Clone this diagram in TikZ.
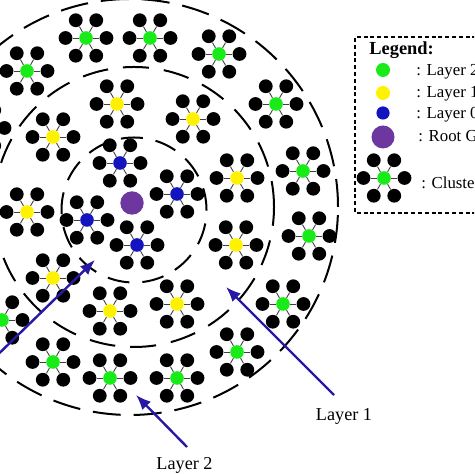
\documentclass[tikz,border=0pt]{standalone}
\usepackage{fontspec}
\setmainfont{Liberation Serif}
\usetikzlibrary{arrows.meta}
\definecolor{lgreen}{RGB}{25,235,25}
\definecolor{lyellow}{RGB}{255,242,0}
\definecolor{lblue}{RGB}{20,20,190}
\definecolor{lpurple}{RGB}{110,55,160}
\definecolor{arrowblue}{RGB}{40,25,165}
\tikzset{
  hub/.style={circle,inner sep=0pt,minimum size=6.8pt,draw=none},
  leaf/.style={circle,inner sep=0pt,minimum size=6.9pt,fill=black,draw=none},
  spoke/.style={draw=black!75,line width=0.45pt},
  dot/.style={circle,inner sep=0pt,draw=none},
  ring/.style={line width=1pt,black},
  legbox/.style={line width=1pt,dash pattern=on 2pt off 1.4pt},
  layerarrow/.style={arrowblue,line width=1.2pt,-{Latex[length=7.5pt,width=6pt]}},
  lab/.style={inner sep=0pt,font=\fontsize{9.1}{11}\selectfont,anchor=base},
  legtxt/.style={inner sep=0pt,font=\fontsize{8.4}{10}\selectfont,anchor=base west},
  pics/cluster/.style={code={
    \node[hub,fill=#1] (-c) at (0,0) {};
    \foreach \i/\a in {1/0,2/60,3/120,4/180,5/240,6/300}{
      \node[leaf] (-n\i) at (\a:20.5) {};
      \draw[spoke] (-c) -- (-n\i);
    }
  }}
}
\begin{document}
\begin{tikzpicture}[x=0.5pt,y=0.5pt]
\useasboundingbox (0,0) rectangle (474,474);
\clip (0,0) rectangle (474,474);
% dashed layer rings
\draw[ring,dash pattern=on 11pt off 6.5pt] (134,264) circle[radius=72.5];
\draw[ring,dash pattern=on 13pt off 7.5pt] (134,267) circle[radius=140];
\draw[ring,dash pattern=on 14pt off 6.5pt] (130,267) circle[radius=208];
% root gateway
\node[dot,fill=lpurple,minimum size=11.7pt] (root) at (132,271) {};
% layer 0
\pic (b1) at (120,311) {cluster=lblue};
\pic (b2) at (177,280) {cluster=lblue};
\pic (b3) at (87,254) {cluster=lblue};
\pic (b4) at (137,229) {cluster=lblue};
% layer 1
\pic (y1) at (117,370) {cluster=lyellow};
\pic (y2) at (193,355) {cluster=lyellow};
\pic (y3) at (53,337) {cluster=lyellow};
\pic (y4) at (27,262) {cluster=lyellow};
\pic (y5) at (237,296) {cluster=lyellow};
\pic (y6) at (236,229) {cluster=lyellow};
\pic (y7) at (53,196) {cluster=lyellow};
\pic (y8) at (110,163) {cluster=lyellow};
\pic (y9) at (177,170) {cluster=lyellow};
% layer 2
\pic (g1) at (86,436) {cluster=lgreen};
\pic (g2) at (150,436) {cluster=lgreen};
\pic (g3) at (219,420) {cluster=lgreen};
\pic (g4) at (27,403) {cluster=lgreen};
\pic (g5) at (276,370) {cluster=lgreen};
\pic (g6) at (303,303) {cluster=lgreen};
\pic (g7) at (309,238) {cluster=lgreen};
\pic (g8) at (283,170) {cluster=lgreen};
\pic (g9) at (237,122) {cluster=lgreen};
\pic (g10) at (177,96) {cluster=lgreen};
\pic (g11) at (110,96) {cluster=lgreen};
\pic (g12) at (53,112) {cluster=lgreen};
\pic (g13) at (2,154) {cluster=lgreen};
\pic (g14) at (-16,346) {cluster=lgreen};
% legend
\draw[legbox] (490,437) -- (355,437) -- (355,261) -- (490,261);
\node[inner sep=0pt,anchor=base west,font=\fontsize{9.2}{11}\selectfont\bfseries] (legtitle) at (369,419) {Legend:};
\node[dot,fill=lgreen,minimum size=7pt] (lg2) at (383,404) {};
\node[legtxt] (lt2) at (416,398) {: Layer 2};
\node[dot,fill=lyellow,minimum size=7pt] (lg1) at (383,381) {};
\node[legtxt] (lt1) at (416,376) {: Layer 1};
\node[dot,fill=lblue,minimum size=6.6pt] (lg0) at (383,361) {};
\node[legtxt] (lt0) at (416,355) {: Layer 0};
\node[dot,fill=lpurple,minimum size=11.5pt] (lgr) at (383,337) {};
\node[legtxt] (ltr) at (418,332) {: Root G};
\pic (lgc) at (384,296) {cluster=lgreen};
\node[legtxt] (ltc) at (421,285) {: Cluste};
% arrows and labels
\coordinate (a0s) at (-20,102);
\coordinate (a0e) at (95,214);
\draw[layerarrow] (a0s) -- (a0e);
\coordinate (a1s) at (334,79);
\coordinate (a1e) at (226,187);
\draw[layerarrow] (a1s) -- (a1e);
\coordinate (a2s) at (187,27);
\coordinate (a2e) at (136,79);
\draw[layerarrow] (a2s) -- (a2e);
\node[lab] (l1) at (344,53) {Layer 1};
\node[lab] (l2) at (184.5,4) {Layer 2};
\end{tikzpicture}
\end{document}
